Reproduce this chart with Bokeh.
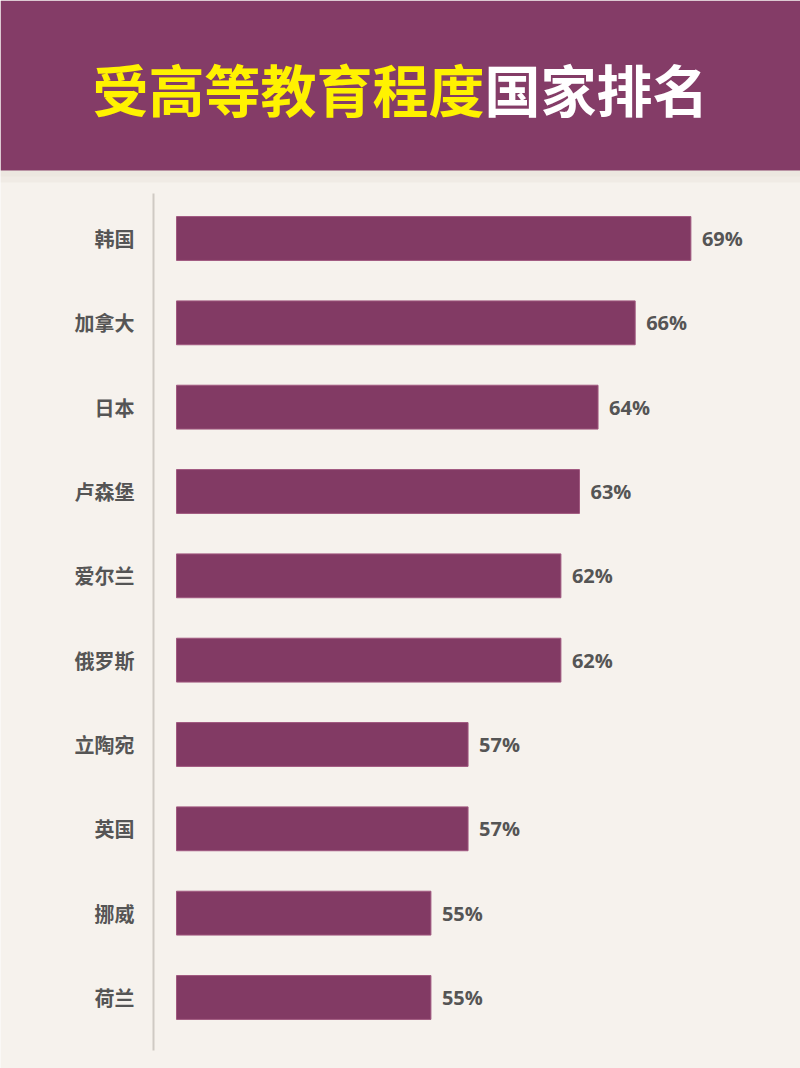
from bokeh.plotting import figure
from bokeh.models import Range1d, ColumnDataSource
from bokeh.core.properties import value
from bokeh.embed import file_html
from bokeh.resources import INLINE

# ---- data ----
countries = ["韩国", "加拿大", "日本", "卢森堡", "爱尔兰", "俄罗斯", "立陶宛", "英国", "挪威", "荷兰"]
percent = [69, 66, 64, 63, 62, 62, 57, 57, 55, 55]
value_labels = [f"{v}%" for v in percent]
title_yellow = "受高等教育程度"
title_white = "国家排名"

# ---- style / layout ----
BG = "#f6f2ed"
PURPLE = "#843c67"
BAR = "#823a64"
TEXT = "#555555"
CJK = "Noto Sans CJK SC"
BAR_BASE = 41.3

W = 800
H = 1068
# data <-> pixel scale (frame covers the whole canvas)
PX_PER_PCT = 18.57
X0 = BAR_BASE - 176 / PX_PER_PCT          # value at left canvas edge
ROW_PX = 84.33
Y0 = -238 / ROW_PX                        # row index at top canvas edge


def px_x(px):
    return X0 + px / PX_PER_PCT


def px_y(px):
    return Y0 + px / ROW_PX


ypos = list(range(len(countries)))
src = ColumnDataSource(dict(y=ypos, v=percent, lab=value_labels, name=countries))

p = figure(width=W, height=H, output_backend="svg", toolbar_location=None,
           x_range=Range1d(px_x(0), px_x(W)), y_range=Range1d(px_y(H), px_y(0)),
           min_border=0, background_fill_color=BG, border_fill_color=BG)
p.axis.visible = False
p.grid.visible = False
p.outline_line_color = None

# header band + soft shadow
p.quad(left=[px_x(0)], right=[px_x(W)], top=[px_y(170)], bottom=[px_y(182)],
       fill_color="#e6e0d8", fill_alpha=0.35, line_color=None)
p.quad(left=[px_x(0)], right=[px_x(W)], top=[px_y(170)], bottom=[px_y(176)],
       fill_color="#e6e0d8", fill_alpha=0.35, line_color=None)
p.quad(left=[px_x(0)], right=[px_x(W)], top=[px_y(0)], bottom=[px_y(170)],
       fill_color=PURPLE, line_color=None)
p.text(x=[px_x(484)], y=[px_y(87)], text=[title_yellow], text_align="right", text_baseline="middle",
       text_font=value(CJK), text_font_style="bold", text_font_size="56px", text_color="#fff200")
p.text(x=[px_x(484)], y=[px_y(87)], text=[title_white], text_align="left", text_baseline="middle",
       text_font=value(CJK), text_font_style="bold", text_font_size="56px", text_color="#ffffff")

# vertical axis line
p.segment(x0=[px_x(153)], x1=[px_x(153)], y0=[px_y(193)], y1=[px_y(1050)],
          line_color="#cfcac4", line_width=2)

# bars and labels
p.hbar(y="y", left=BAR_BASE, right="v", height=0.52, source=src,
       fill_color=BAR, line_color="#a0587f", line_width=1)
p.text(x="v", y="y", text="lab", source=src, x_offset=11, text_baseline="middle",
       text_font=value("Open Sans"), text_font_style="bold", text_font_size="20px", text_color=TEXT)
p.text(x=px_x(134), y="y", text="name", source=src, text_align="right", text_baseline="middle",
       text_font=value(CJK), text_font_style="bold", text_font_size="20px", text_color=TEXT)

html = file_html(p, INLINE)
open("out.html", "w").write(html)
